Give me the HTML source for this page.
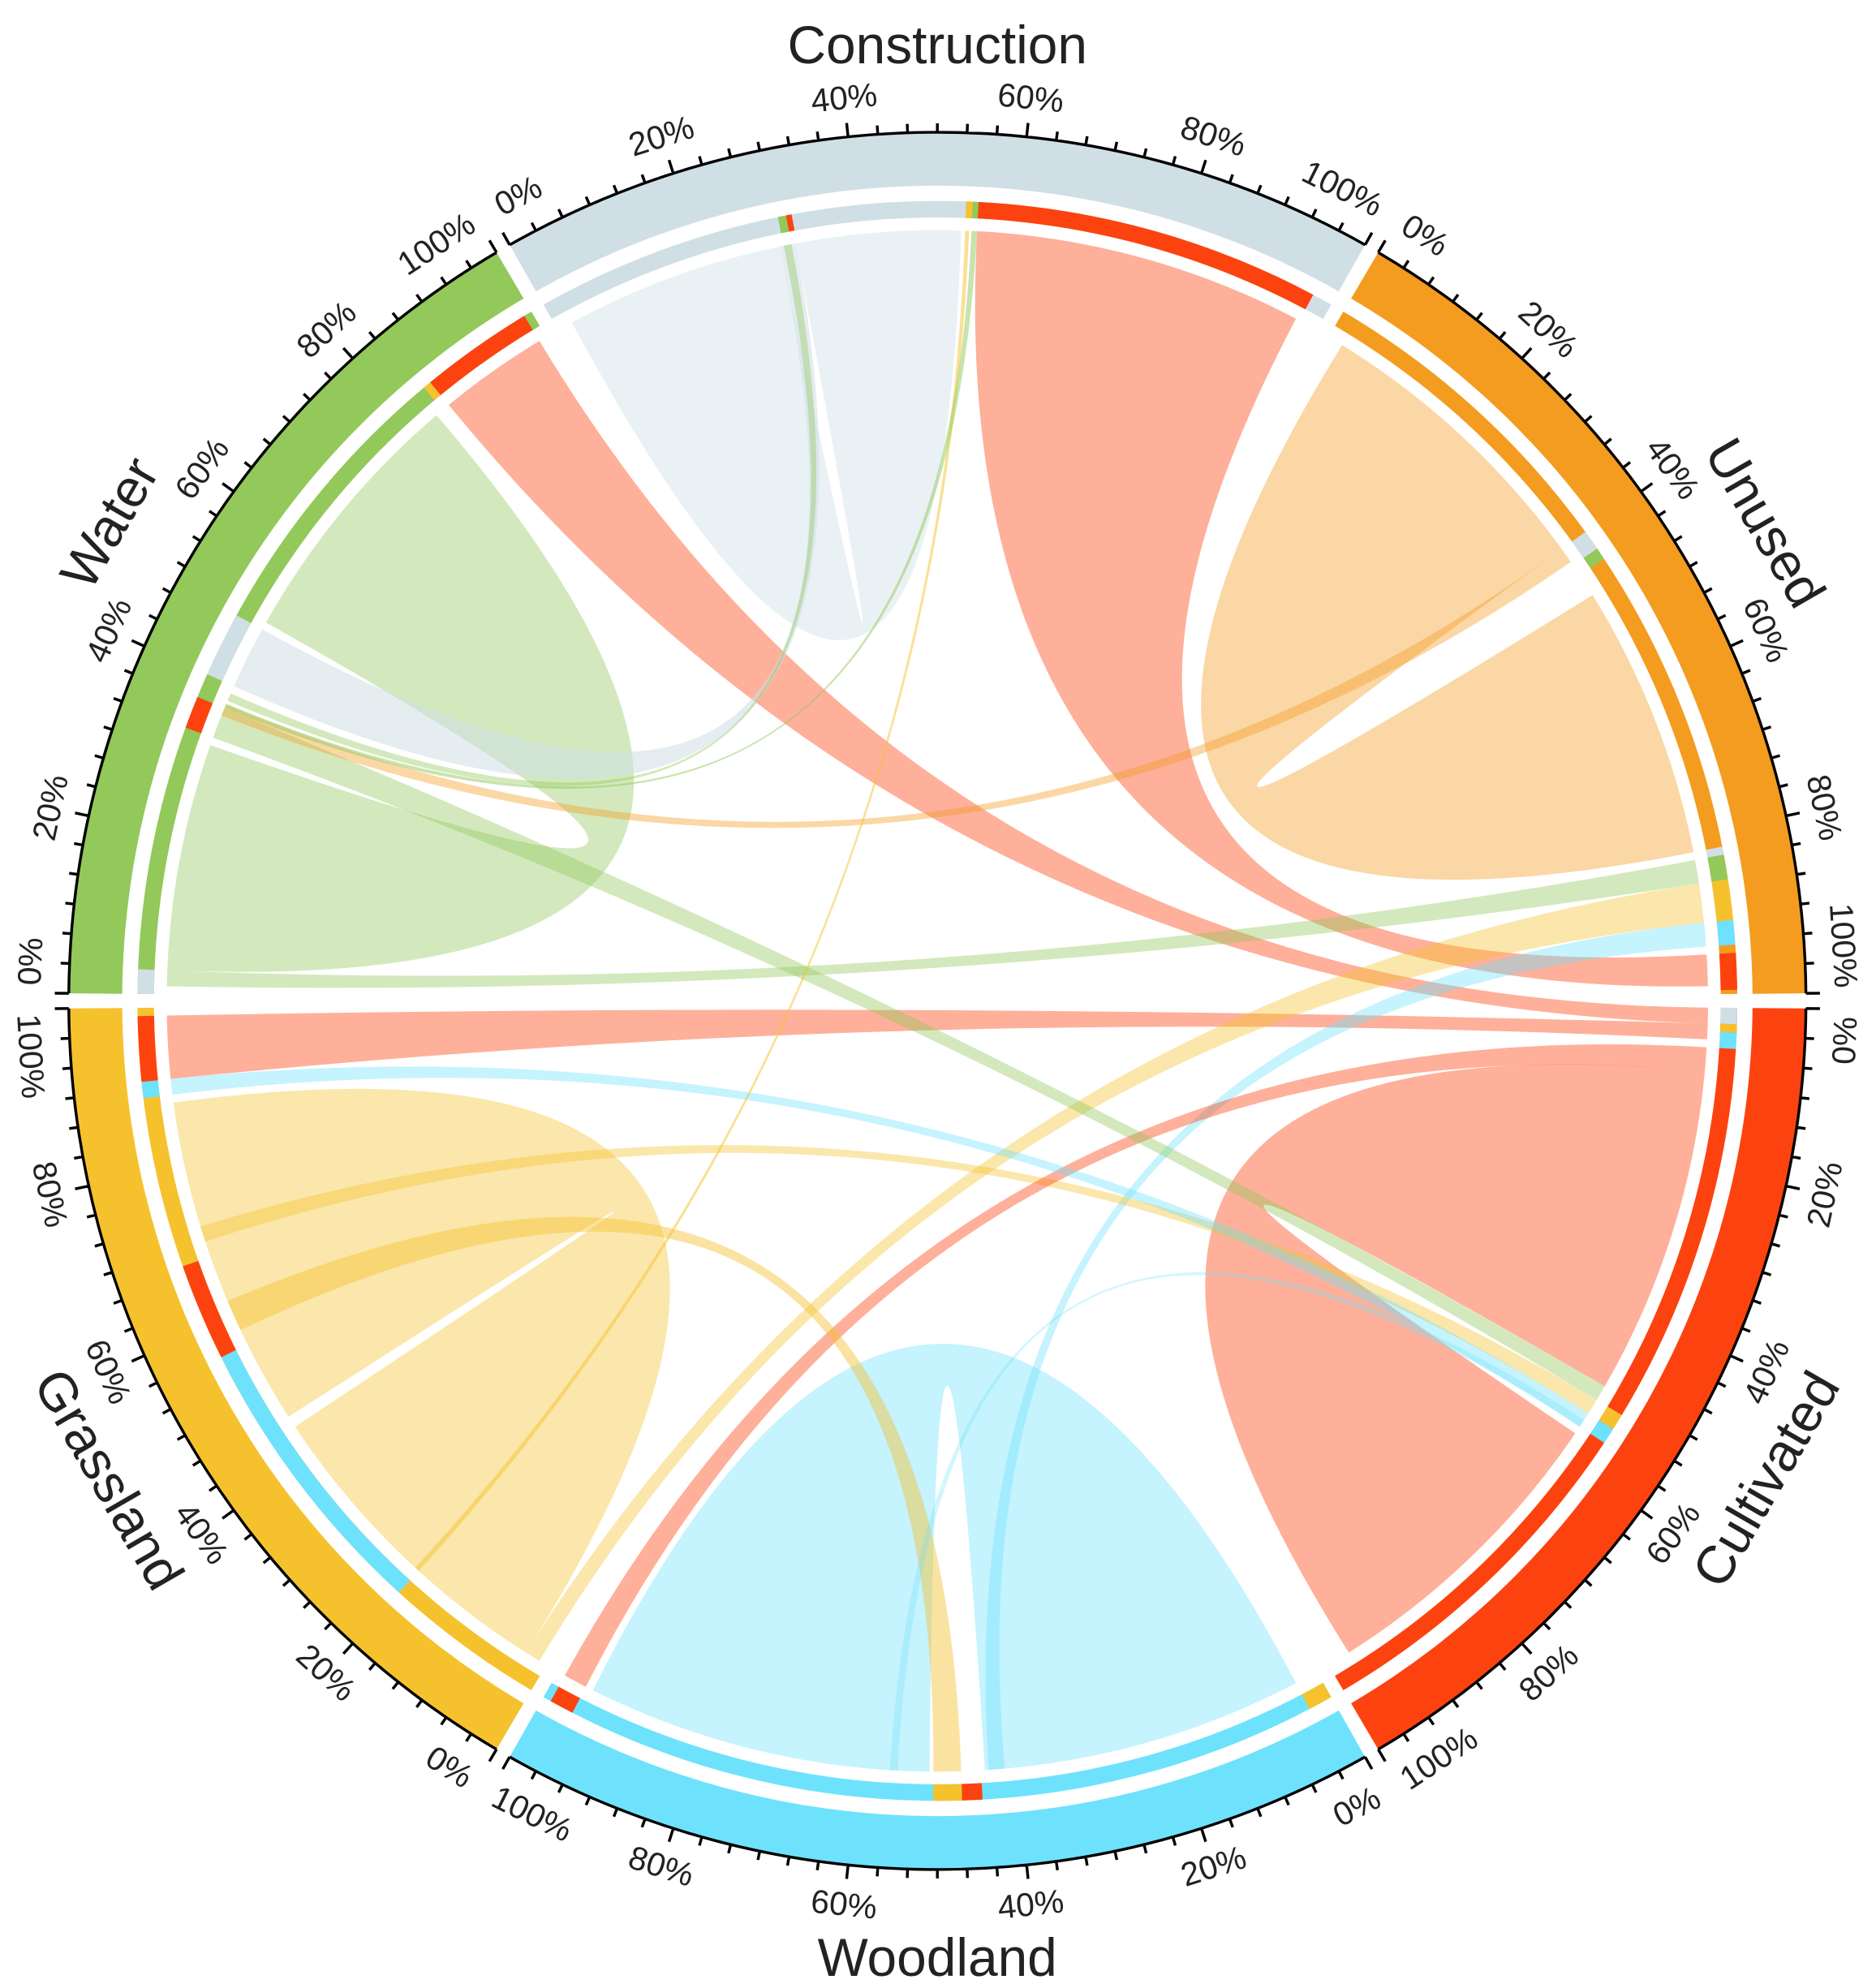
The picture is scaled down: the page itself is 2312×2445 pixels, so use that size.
<!DOCTYPE html>
<html><head><meta charset="utf-8"><style>
html,body{margin:0;padding:0;background:#fff;}
svg{display:block;}
text{font-family:"Liberation Sans",sans-serif;fill:#222;}
</style></head><body>
<svg id="s" width="2312" height="2445" viewBox="0 0 1475 1560" xmlns="http://www.w3.org/2000/svg">
<g id="chords"></g>
<g id="rings"></g>
<g id="ticks" stroke="#000" fill="none"></g>
<g font-size="26" text-anchor="middle" dominant-baseline="central">
<text x="737" y="73" transform="rotate(-27.5 737 787)">0%</text>
<text x="737" y="73" transform="rotate(-17.7 737 787)">20%</text>
<text x="737" y="73" transform="rotate(-5.9 737 787)">40%</text>
<text x="737" y="73" transform="rotate(5.9 737 787)">60%</text>
<text x="737" y="73" transform="rotate(17.7 737 787)">80%</text>
<text x="737" y="73" transform="rotate(26.5 737 787)">100%</text>
<text x="737" y="73" transform="rotate(32.5 737 787)">0%</text>
<text x="737" y="73" transform="rotate(42.3 737 787)">20%</text>
<text x="737" y="73" transform="rotate(54.1 737 787)">40%</text>
<text x="737" y="73" transform="rotate(65.9 737 787)">60%</text>
<text x="737" y="73" transform="rotate(77.7 737 787)">80%</text>
<text x="737" y="73" transform="rotate(86.5 737 787)">100%</text>
<text x="737" y="73" transform="rotate(92.5 737 787) rotate(180 737 73)">0%</text>
<text x="737" y="73" transform="rotate(102.3 737 787) rotate(180 737 73)">20%</text>
<text x="737" y="73" transform="rotate(114.1 737 787) rotate(180 737 73)">40%</text>
<text x="737" y="73" transform="rotate(125.9 737 787) rotate(180 737 73)">60%</text>
<text x="737" y="73" transform="rotate(137.7 737 787) rotate(180 737 73)">80%</text>
<text x="737" y="73" transform="rotate(146.5 737 787) rotate(180 737 73)">100%</text>
<text x="737" y="73" transform="rotate(152.5 737 787) rotate(180 737 73)">0%</text>
<text x="737" y="73" transform="rotate(162.3 737 787) rotate(180 737 73)">20%</text>
<text x="737" y="73" transform="rotate(174.1 737 787) rotate(180 737 73)">40%</text>
<text x="737" y="73" transform="rotate(185.9 737 787) rotate(180 737 73)">60%</text>
<text x="737" y="73" transform="rotate(197.7 737 787) rotate(180 737 73)">80%</text>
<text x="737" y="73" transform="rotate(206.5 737 787) rotate(180 737 73)">100%</text>
<text x="737" y="73" transform="rotate(212.5 737 787) rotate(180 737 73)">0%</text>
<text x="737" y="73" transform="rotate(222.3 737 787) rotate(180 737 73)">20%</text>
<text x="737" y="73" transform="rotate(234.1 737 787) rotate(180 737 73)">40%</text>
<text x="737" y="73" transform="rotate(245.9 737 787) rotate(180 737 73)">60%</text>
<text x="737" y="73" transform="rotate(257.7 737 787) rotate(180 737 73)">80%</text>
<text x="737" y="73" transform="rotate(266.5 737 787) rotate(180 737 73)">100%</text>
<text x="737" y="73" transform="rotate(272.5 737 787)">0%</text>
<text x="737" y="73" transform="rotate(282.3 737 787)">20%</text>
<text x="737" y="73" transform="rotate(294.1 737 787)">40%</text>
<text x="737" y="73" transform="rotate(305.9 737 787)">60%</text>
<text x="737" y="73" transform="rotate(317.7 737 787)">80%</text>
<text x="737" y="73" transform="rotate(326.5 737 787)">100%</text>
</g>
<g font-size="42" text-anchor="middle" dominant-baseline="central">
<text x="737" y="35" transform="rotate(0 737 787)">Construction</text>
<text x="737" y="35" transform="rotate(60 737 787)">Unused</text>
<text x="737" y="35" transform="rotate(120 737 787) rotate(180 737 35)">Cultivated</text>
<text x="737" y="35" transform="rotate(180 737 787) rotate(180 737 35)">Woodland</text>
<text x="737" y="35" transform="rotate(240 737 787) rotate(180 737 35)">Grassland</text>
<text x="737" y="35" transform="rotate(300 737 787)">Water</text>
</g>
</svg>
<script>
var cx=737,cy=787,NS="http://www.w3.org/2000/svg";
var starts=[-29.5,30.5,90.5,150.5,210.5,270.5];
var cols=["#d0dfe6","#f39c1f","#fc430f","#6ee2fc","#f5c22e","#92c95a"];
function ang(s,p){return starts[s]+0.59*p;}
function pt(r,d){var a=d*Math.PI/180;return [cx+r*Math.sin(a),cy-r*Math.cos(a)];}
function f(p){return p[0].toFixed(2)+","+p[1].toFixed(2);}
function annul(ri,ro,d1,d2){var L=(d2-d1)>180?1:0;
 return "M"+f(pt(ro,d1))+"A"+ro+","+ro+" 0 "+L+" 1 "+f(pt(ro,d2))+"L"+f(pt(ri,d2))+"A"+ri+","+ri+" 0 "+L+" 0 "+f(pt(ri,d1))+"Z";}
function add(g,tag,attrs){var e=document.createElementNS(NS,tag);for(var k in attrs)e.setAttribute(k,attrs[k]);document.getElementById(g).appendChild(e);return e;}
for(var i=0;i<6;i++){add("rings","path",{d:annul(641,683,ang(i,0),ang(i,100)),fill:cols[i]});
 add("rings","path",{d:annul(616,629,ang(i,0),ang(i,100)),fill:cols[i]});}
var pieces=[
[0,30.5,31.5,5],[0,31.5,32.2,2],[0,53.5,54.3,4],[0,54.3,55,5],[0,55,97.5,2],
[1,40,42.5,0],[1,42.5,44,5],[1,82,83,0],[1,83,86,5],[1,86,91,4],[1,91,94,3],[1,95,99.5,2],
[2,0,2,0],[2,2,3,4],[2,3,5,3],[2,5,52,2],[2,52,54,4],[2,54,56,3],[2,56,100,2],
[3,0,3,4],[3,44.5,47,2],[3,47,50.5,4],[3,96,99,2],
[4,20,56,3],[4,56,68,2],[4,89,91,3],[4,91,99,2],
[5,0,3,0],[5,33,37,2],[5,40,48,0],[5,84,85,4],[5,85,99,2]];
pieces.forEach(function(q){add("rings","path",{d:annul(616,629,ang(q[0],q[1]),ang(q[0],q[2])),fill:cols[q[3]]});});
var tk="";
for(var i=0;i<6;i++){var a0=ang(i,0),a1=ang(i,100);
 tk+="M"+f(pt(683,a0))+"A683,683 0 0 1 "+f(pt(683,a1));
 for(var k=0;k<=30;k++){var d=ang(i,k*100/30);var L=(k%6==0)?11:7;tk+="M"+f(pt(683,d))+"L"+f(pt(683+L,d));}}
add("ticks","path",{d:tk,"stroke-width":2.2});
var R=606;
var chords=[
[0,2,30,0,32,53,0,.45],
[1,2,40,1,47,82,1,.4],
[2,8,50,2,57,97,2,.42],
[3,3,44,3,51,95,3,.4],
[4,3,44,4,45.5,88,4,.4],
[5,3,32,5,49,83,5,.4],
[0,55,97,1,95,99,2,.42],
[5,85,99,2,0,2,2,.42],
[4,91,99,2,2,4,2,.42],
[5,40,48,0,30,32,0,.55],
[5,1,3,1,83,86,5,.4],
[1,86,91,4,1,3,4,.4],
[3,41.5,43.5,1,91,94,3,.4],
[4,70,72,2,52,54,4,.4],
[3,96,99,2,5,8,2,.42],
[3,47,50.5,4,58,62,4,.45],
[5,33,37,2,50,52,5,.4],
[4,89,91,2,54,56,3,.4],
[1,40,42,5,36,37.5,1,.4],
[0,53.5,54,4,20,20.6,4,.5],
[0,54.3,55,5,37,37.6,5,.5],
[0,30.5,31.5,5,38,39,5,.4],
[3,55,56,2,55,56,3,.3]];
chords.forEach(function(c){
 var A1=ang(c[0],c[1]),A2=ang(c[0],c[2]),B1=ang(c[3],c[4]),B2=ang(c[3],c[5]);
 var d="M"+f(pt(R,A1))+"A"+R+","+R+" 0 0 1 "+f(pt(R,A2))+"Q"+cx+","+cy+" "+f(pt(R,B1))+"A"+R+","+R+" 0 0 1 "+f(pt(R,B2))+"Q"+cx+","+cy+" "+f(pt(R,A1))+"Z";
 add("chords","path",{d:d,fill:cols[c[6]],"fill-opacity":c[7]});
});
</script>
</body></html>
